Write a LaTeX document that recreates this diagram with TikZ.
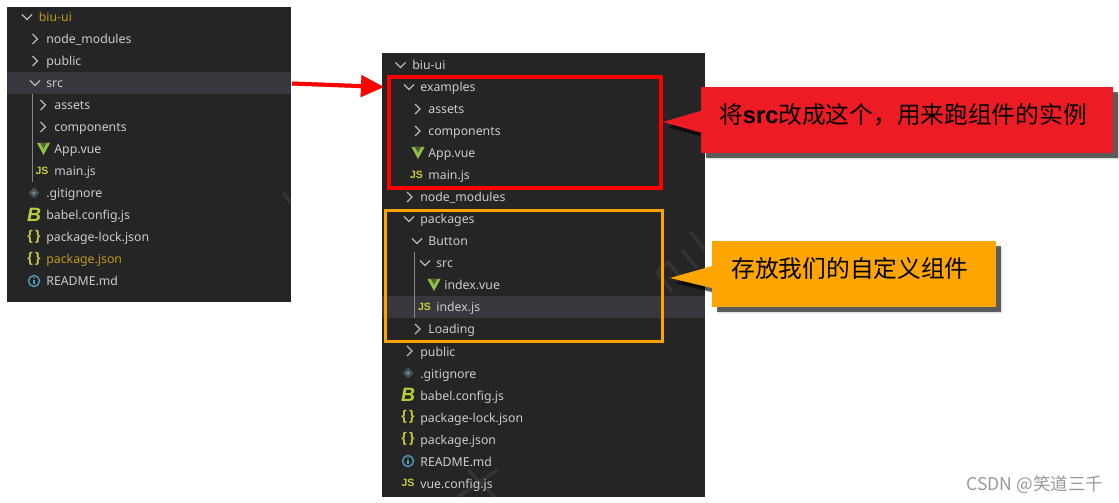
\documentclass[tikz,border=0pt]{standalone}
\usepackage{fontspec}
\setmainfont{Noto Sans}
\newfontfamily\cjk{Noto Sans CJK SC}
\newfontfamily\iconfont{Liberation Sans}
\usetikzlibrary{arrows.meta,shadows,shapes.callouts}
\definecolor{panelbg}{HTML}{252526}
\definecolor{rowhi}{HTML}{37373D}
\definecolor{rowtext}{HTML}{CCCCCC}
\definecolor{gittext}{HTML}{C09A18}
\definecolor{vuegreen}{HTML}{8DC149}
\definecolor{jsyellow}{HTML}{CBCB41}
\definecolor{infoblue}{HTML}{519ABA}
\definecolor{gitgrey}{HTML}{41535B}
\definecolor{calloutred}{HTML}{ED1C24}
\definecolor{calloutorange}{HTML}{FFA500}
\tikzset{
  rowlabel/.style={anchor=base west, inner sep=0pt, font=\fontsize{7}{9}\selectfont},
  rowband/.style={fill=rowhi, inner sep=0pt, minimum height=0.44cm},
  guide/.style={draw=white!45!panelbg, line width=0.02cm},
  markbox/.style={draw, inner sep=0pt},
  softshadow/.style={drop shadow={shadow xshift=0.13cm, shadow yshift=-0.13cm, fill=black, opacity=0.12},
    drop shadow={shadow xshift=0.1cm, shadow yshift=-0.1cm, fill=black, opacity=0.6}},
  note/.style={rectangle callout, inner sep=0pt, softshadow, callout pointer width=0.44cm},
  notetext/.style={inner sep=0pt, text=black, font=\cjk\fontsize{13.5}{16}\selectfont},
  wmark/.style={draw=white, draw opacity=0.07, line width=0.07cm},
  chev/.style={draw=rowtext!90!black, line width=0.022cm},
  opened/.pic={\draw[chev] (-5,-2.5) -- (0,2.5) -- (5,-2.5);},
  closed/.pic={\draw[chev] (-2.5,-5) -- (2.5,0) -- (-2.5,5);},
  vuemark/.pic={\fill[vuegreen] (-6.5,-6) -- (6.5,-6) -- (0,6) -- cycle;
    \fill[panelbg!60!vuegreen] (-3.2,-6) -- (3.2,-6) -- (0,-0.2) -- cycle;},
  jsmark/.pic={\node (jsglyph) [inner sep=0pt, text=jsyellow, font=\iconfont\bfseries\fontsize{6}{7}\selectfont] at (0,0) {JS};},
  jsonmark/.pic={\node (jsonglyph) [inner sep=0pt, text=jsyellow, font=\iconfont\bfseries\fontsize{8}{9}\selectfont] at (0,-0.5) {\{\,\}};},
  babelmark/.pic={\node (babelglyph) [inner sep=0pt, text=jsyellow!90!green, font=\iconfont\bfseries\itshape\fontsize{11}{12}\selectfont] at (0,0) {B};},
  gitmark/.pic={\fill[gitgrey] (0,-5.5) -- (5.5,0) -- (0,5.5) -- (-5.5,0) -- cycle;
    \fill[gitgrey!70!white] (0,-2) -- (2,0) -- (0,2) -- (-2,0) -- cycle;},
  infomark/.pic={\draw[infoblue, line width=0.028cm] (0,0) circle (5.5);
    \draw[infoblue, line width=0.035cm] (0,-1) -- (0,3);
    \fill[infoblue] (0,-3) circle (0.9);},
}
\begin{document}
\begin{tikzpicture}[x=0.02cm, y=-0.02cm]
  \useasboundingbox (0,0) rectangle (1119,503);
  % the two file trees
  \fill[panelbg] (7,7) rectangle (291,302);
  \fill[panelbg] (382,53) rectangle (705,497);
  \node (srcband) [rowband, minimum width=5.68cm] at (149,83) {};
  \node (indexband) [rowband, minimum width=6.46cm] at (543.5,307) {};
  \draw[guide] (32.5,94) -- (32.5,182);
  \draw[guide] (414.5,252) -- (414.5,318);
  \draw[wmark] (283,193) -- (291,203);
  \draw[wmark] (657,272) -- (672,291) (668,262) -- (683,281) (668,262) -- (657,272);
  \draw[wmark] (690,232) -- (705,250) (682,250) -- (697,268);
  \draw[wmark] (458,497) -- (497,470) (468,470) -- (495,497);
  \foreach \ic/\kind/\tx/\r/\lab/\col [count=\n] in {
      27/opened/38.5/17/biu-ui/gittext,
      35/closed/46/39/node\_modules/rowtext,
      35/closed/46/61/public/rowtext,
      35/opened/46/83/src/rowtext,
      43/closed/54/105/assets/rowtext,
      43/closed/54/127/components/rowtext,
      43.5/vuemark/54/149/App.vue/rowtext,
      42/jsmark/54/171/main.js/rowtext,
      34/gitmark/46/193/.gitignore/rowtext,
      34/babelmark/46/215/babel.config.js/rowtext,
      34/jsonmark/46/237/package-lock.json/rowtext,
      34/jsonmark/46/259/package.json/gittext,
      34/infomark/46/281/README.md/rowtext} {
    \pic at (\ic,\r) {\kind};
    \node (old\n) [rowlabel, text=\col] at (\tx,\r+5) {\lab};
  }
  \foreach \ic/\kind/\tx/\r/\lab [count=\n] in {
      400.5/opened/412/65/biu-ui,
      409/opened/420/87/examples,
      417.5/closed/428/109/assets,
      417.5/closed/428/131/components,
      418/vuemark/428/153/App.vue,
      416.5/jsmark/428/175/main.js,
      409.5/closed/420/197/node\_modules,
      409/opened/420/219/packages,
      417/opened/428/241/Button,
      425/opened/436/263/src,
      434/vuemark/444/285/index.vue,
      424.5/jsmark/436/307/index.js,
      417.5/closed/428/329/Loading,
      409.5/closed/420/351/public,
      408/gitmark/420/373/.gitignore,
      408/babelmark/420/395/babel.config.js,
      408/jsonmark/420/417/package-lock.json,
      408/jsonmark/420/439/package.json,
      408/infomark/420/461/README.md,
      408/jsmark/420/483/vue.config.js} {
    \pic at (\ic,\r) {\kind};
    \node (new\n) [rowlabel, text=rowtext] at (\tx,\r+5) {\lab};
  }
  % marked groups
  \node (exbox) [markbox, draw=red, line width=0.08cm, minimum width=5.45cm, minimum height=2.24cm] at (524.75,132.5) {};
  \node (pkgbox) [markbox, draw=calloutorange, line width=0.07cm, minimum width=5.54cm, minimum height=2.62cm] at (524,276) {};
  % arrow between the trees
  \coordinate (arrowfrom) at (292,83.5);
  \coordinate (arrowto) at (384,87);
  \begin{scope}[xshift=0.05cm, yshift=-0.09cm]
    \draw[line width=0.08cm, black, opacity=0.45, -{Triangle[length=0.46cm,width=0.42cm]}] (arrowfrom) -- (arrowto);
  \end{scope}
  \draw[line width=0.08cm, red, -{Triangle[length=0.46cm,width=0.42cm]}] (arrowfrom) -- (arrowto);
  % notes
  \node (rednote) [note, fill=calloutred, minimum width=8.24cm, minimum height=1.32cm, callout absolute pointer={(663,122)}] at (907,120) {};
  \node (redtext) [notetext] at (903,114.5) {将\textbf{\fontspec{Liberation Sans}src}改成这个，用来跑组件的实例};
  \node (orangenote) [note, fill=calloutorange, minimum width=5.68cm, minimum height=1.32cm, callout absolute pointer={(670,278)}] at (854,274) {};
  \node (orangetext) [notetext] at (850,268.5) {存放我们的自定义组件};
  \node (csdnmark) [inner sep=0pt, text=black!40, font=\cjk\fontsize{10}{12}\selectfont] at (1035,485) {CSDN @笑道三千};
\end{tikzpicture}
\end{document}
